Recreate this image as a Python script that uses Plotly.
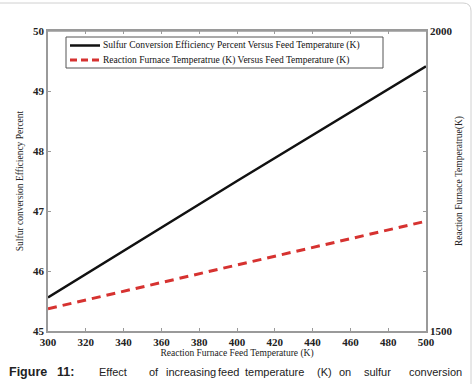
import plotly.graph_objects as go

feed_temp = [300, 400, 500]
sulfur_eff = [45.56, 47.5, 49.41]
furnace_temp = [1537, 1610, 1683]

x_ticks = [300, 320, 340, 360, 380, 400, 420, 440, 460, 480, 500]
y_ticks = [45, 46, 47, 48, 49, 50]
y2_ticks = [1500, 1600, 1700, 1800, 1900, 2000]
y2_text = ["1500", "", "", "", "", "2000"]

name1 = "Sulfur Conversion Efficiency Percent Versus Feed Temperature (K)"
name2 = "Reaction Furnace Temperatrue (K) Versus Feed Temperature (K)"

W, H = 474, 384
L, R, T, B = 48, 48, 31, 53

def px(xp):
    return (xp - L) / (W - L - R)

def py(yp):
    return (H - B - yp) / (H - T - B)

serif = "Liberation Serif"
axis_col = "#9a9a9a"

fig = go.Figure()
fig.add_trace(go.Scatter(x=feed_temp, y=sulfur_eff, mode="lines", name=name1,
                         line=dict(color="#111111", width=2.5)))
fig.add_trace(go.Scatter(x=feed_temp, y=furnace_temp, mode="lines", name=name2, yaxis="y2",
                         line=dict(color="#d63230", width=3, dash="9px,6px")))

fig.update_layout(
    width=W, height=H,
    margin=dict(l=L, r=R, t=T, b=B),
    paper_bgcolor="white", plot_bgcolor="white",
    showlegend=False,
    xaxis=dict(range=[300, 500], tickvals=x_ticks, ticks="inside", ticklen=3,
               tickcolor=axis_col, showline=True, linecolor=axis_col, linewidth=1.5,
               mirror="ticks", showgrid=False, zeroline=False,
               tickfont=dict(family=serif, size=11, color="#222", weight="bold"),
               title=dict(text="Reaction Furnace Feed Temperature (K)", standoff=2,
                          font=dict(family=serif, size=9.5, color="#222"))),
    yaxis=dict(range=[45, 50], tickvals=y_ticks, ticks="inside", ticklen=3,
               tickcolor=axis_col, showline=True, linecolor=axis_col, linewidth=1.5,
               showgrid=False, zeroline=False,
               tickfont=dict(family=serif, size=11, color="#222", weight="bold"),
               title=dict(text="Sulfur conversion Efficiency Percent", standoff=8,
                          font=dict(family=serif, size=9.5, color="#222"))),
    yaxis2=dict(range=[1500, 2000], tickvals=y2_ticks, ticktext=y2_text, overlaying="y",
                side="right", ticks="inside", ticklen=3, tickcolor=axis_col,
                showline=True, linecolor=axis_col, linewidth=1.5,
                showgrid=False, zeroline=False,
                tickfont=dict(family=serif, size=11, color="#222", weight="bold"),
                title=dict(text="Reaction Furnace Temperatrue(K)", standoff=4,
                           font=dict(family=serif, size=9.5, color="#222"))),
)

# top axis line (box)
fig.add_shape(type="line", xref="paper", yref="paper", x0=0, x1=1, y0=1, y1=1,
              line=dict(color=axis_col, width=1.5))

# legend drawn by hand (box, samples, labels)
fig.add_shape(type="rect", xref="paper", yref="paper", x0=px(66), x1=px(383), y0=py(68), y1=py(37),
              line=dict(color="#555555", width=1), fillcolor="white", layer="above")
fig.add_shape(type="line", xref="paper", yref="paper", x0=px(70), x1=px(100), y0=py(45.5), y1=py(45.5),
              line=dict(color="#111111", width=2.5), layer="above")
fig.add_shape(type="line", xref="paper", yref="paper", x0=px(70), x1=px(100), y0=py(60), y1=py(60),
              line=dict(color="#d63230", width=3, dash="7px,4px"), layer="above")
for name, yy in [(name1, 45.5), (name2, 60)]:
    fig.add_annotation(text=name, xref="paper", yref="paper", x=px(101), y=py(yy),
                       xanchor="left", yanchor="middle", showarrow=False,
                       font=dict(family=serif, size=9.5, color="#111"))

# image frame
fig.add_shape(type="path", xref="paper", yref="paper",
              path=f"M {px(0)},{py(3)} L {px(463)},{py(3)} Q {px(471)},{py(3)} {px(471)},{py(11)} L {px(471)},{py(384)}",
              line=dict(color="#d0d0d0", width=1))

# caption words
caption = [("Figure", 7, True), ("11:", 55, True), ("Effect", 97, False), ("of", 147, False),
           ("increasing", 164, False), ("feed", 216, False), ("temperature", 243, False),
           ("(K)", 315, False), ("on", 337, False), ("sulfur", 362, False), ("conversion", 407, False)]
for word, xpix, bold in caption:
    fig.add_annotation(text=f"<b>{word}</b>" if bold else word, xref="paper", yref="paper",
                       x=px(xpix), y=py(372), xanchor="left", yanchor="middle", showarrow=False,
                       font=dict(family="Liberation Sans", size=12.5 if bold else 11, color="#222"))

fig.write_html("out.html", config={"displayModeBar": False},
               post_script="document.body.style.margin='0';document.body.style.overflow='hidden';")
